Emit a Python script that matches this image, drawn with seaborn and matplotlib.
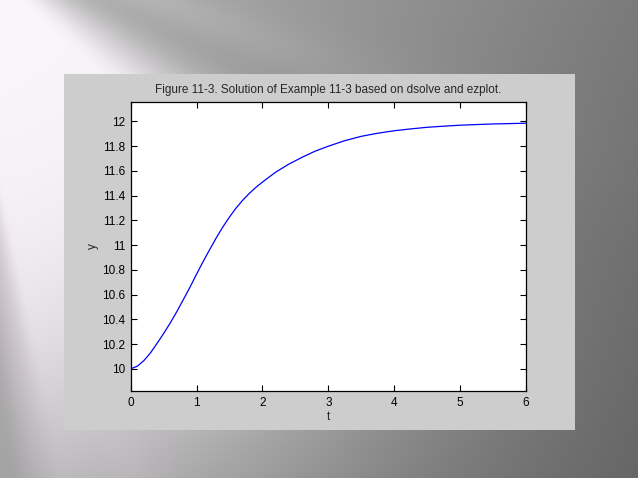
import numpy as np
import pandas as pd
import seaborn as sns
import matplotlib.pyplot as plt
from matplotlib.patches import Rectangle

# values
t_values = [0, 0.1, 0.2, 0.3, 0.4, 0.5, 0.6, 0.7, 0.8, 0.9, 1.0, 1.1, 1.2, 1.3, 1.4,
            1.5, 1.6, 1.7, 1.8, 1.9, 2.0, 2.2, 2.4, 2.6, 2.8, 3.0, 3.25, 3.5, 3.75,
            4.0, 4.25, 4.5, 4.75, 5.0, 5.5, 6.0]
y_values = [10.0, 10.02, 10.066, 10.128, 10.205, 10.285, 10.37, 10.462, 10.56, 10.66,
            10.765, 10.868, 10.965, 11.06, 11.148, 11.228, 11.3, 11.363, 11.418, 11.467,
            11.51, 11.59, 11.655, 11.71, 11.76, 11.80, 11.845, 11.88, 11.905,
            11.925, 11.94, 11.953, 11.962, 11.970, 11.980, 11.986]
x_ticks = [0, 1, 2, 3, 4, 5, 6]
y_ticks = [10, 10.2, 10.4, 10.6, 10.8, 11, 11.2, 11.4, 11.6, 11.8, 12]
y_ticklabels = ["10", "10.2", "10.4", "10.6", "10.8", "11", "11.2", "11.4", "11.6", "11.8", "12"]
title = "Figure 11-3. Solution of Example 11-3 based on dsolve and ezplot."

df = pd.DataFrame({"t": t_values, "y": y_values})

sns.set_style("ticks")
plt.rcParams["font.family"] = ["Liberation Sans", "DejaVu Sans"]

W, H = 638, 478
fig = plt.figure(figsize=(W / 100, H / 100), dpi=100)


def smoothstep(a, b, v):
    s = np.clip((v - a) / (b - a), 0, 1)
    return s * s * (3 - 2 * s)


# slide background: grey gradient with light rays from the top left corner
xx, yy = np.meshgrid(np.arange(W), np.arange(H))
g = 0.72 - 0.24 * (xx / W) - 0.08 * (yy / H)
dx = xx + 60.0
dy = yy + 80.0
r = np.hypot(dx, dy)
theta = np.degrees(np.arctan2(dy, dx))
main = (1 - smoothstep(77, 83, theta)) * smoothstep(25, 45, theta) * np.exp(-(r / 560.0) ** 4)
pink = 0.5 * np.exp(-((theta - 80.5) / 2.0) ** 2) * np.exp(-(r / 520.0) ** 4)
ray2 = 0.3 * np.exp(-((theta - 20) / 4.0) ** 2) * np.exp(-(r / 380.0) ** 2)
ray3 = 0.15 * np.exp(-((theta - 71) / 3.0) ** 2) * np.exp(-((r - 560) / 120.0) ** 2)
white = np.array([0.98, 0.96, 0.98])
purple = np.array([0.85, 0.78, 0.85])
img = np.empty((H, W, 3))
for c in range(3):
    base = g * (1 - main) + white[c] * main
    base = base * (1 - pink) + purple[c] * pink
    base = base * (1 - ray2) + white[c] * 0.9 * ray2
    base = base * (1 - ray3) + purple[c] * ray3
    img[:, :, c] = base
bg = fig.add_axes([0, 0, 1, 1])
bg.imshow(np.clip(img, 0, 1), aspect="auto", extent=[0, 1, 0, 1], origin="upper")
bg.set_axis_off()

# grey figure panel
fig.patches.append(Rectangle((64 / W, 1 - 430 / H), (575 - 64) / W, (430 - 74) / H,
                             transform=fig.transFigure, facecolor="#cdcdcd",
                             edgecolor="none", zorder=1))

ax = fig.add_axes([130.7 / W, 1 - 391 / H, (526 - 130.7) / W, (391 - 101.7) / H])
ax.set_zorder(2)
ax.set_facecolor("white")

sns.lineplot(data=df, x="t", y="y", ax=ax, color="#0000ff", linewidth=0.9)

ax.set_xlim(0, 6)
ax.set_ylim(9.82, 12.16)
ax.set_xticks(x_ticks)
ax.set_yticks(y_ticks)
ax.set_yticklabels(y_ticklabels)
ax.tick_params(direction="in", length=4, width=0.8, top=True, right=True,
               labelsize=8.5, colors="black", pad=4)
for s in ax.spines.values():
    s.set_visible(True)
    s.set_linewidth(0.9)
    s.set_color("black")

ax.set_xlabel("t", fontsize=8.5, labelpad=2)
ax.set_ylabel("y", fontsize=8.5, labelpad=2)
ax.set_title(title, fontsize=8.5, pad=6)

fig.savefig("out.png", dpi=100)
